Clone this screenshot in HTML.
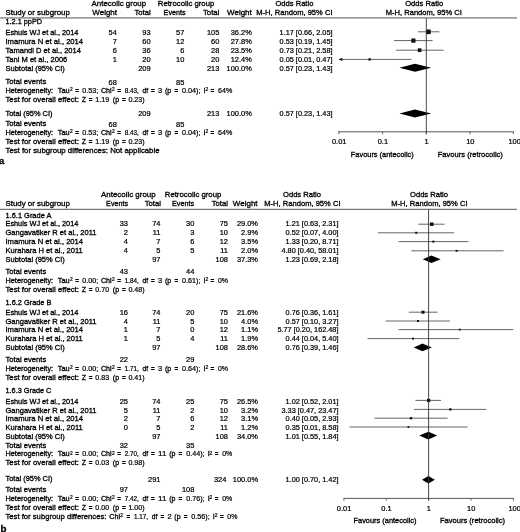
<!DOCTYPE html>
<html><head><meta charset="utf-8"><title>Forest plot</title>
<style>
html,body{margin:0;padding:0;background:#fff;}
svg{display:block;}
text{font-family:"Liberation Sans",sans-serif;font-size:8px;fill:#000;stroke:#000;stroke-width:0.32;}
.n{stroke-width:0.24;}
</style></head><body>
<svg width="520" height="532" viewBox="0 0 520 532">
<rect width="520" height="532" fill="#fff"/>
<text x="91.60" y="5.80" textLength="54.50" lengthAdjust="spacingAndGlyphs">Antecolic group</text>
<text x="157.80" y="5.80" textLength="56.50" lengthAdjust="spacingAndGlyphs">Retrocolic group</text>
<text x="294.40" y="5.80" text-anchor="middle" textLength="38.00" lengthAdjust="spacingAndGlyphs">Odds Ratio</text>
<text x="424.20" y="5.80" text-anchor="middle" textLength="38.00" lengthAdjust="spacingAndGlyphs">Odds Ratio</text>
<text x="5.50" y="15.00" textLength="64.30" lengthAdjust="spacingAndGlyphs">Study or subgroup</text>
<text x="92.30" y="15.00" textLength="24.75" lengthAdjust="spacingAndGlyphs">Weight</text>
<text x="150.70" y="15.00" text-anchor="end" textLength="16.30" lengthAdjust="spacingAndGlyphs">Total</text>
<text x="163.60" y="15.00" textLength="22.00" lengthAdjust="spacingAndGlyphs">Events</text>
<text x="219.30" y="15.00" text-anchor="end" textLength="16.30" lengthAdjust="spacingAndGlyphs">Total</text>
<text x="251.80" y="15.00" text-anchor="end" textLength="24.75" lengthAdjust="spacingAndGlyphs">Weight</text>
<text x="294.40" y="15.00" text-anchor="middle" textLength="76.25" lengthAdjust="spacingAndGlyphs">M-H, Random, 95% CI</text>
<text x="423.80" y="15.00" text-anchor="middle" textLength="76.25" lengthAdjust="spacingAndGlyphs">M-H, Random, 95% CI</text>
<line x1="0.00" y1="17.95" x2="517.00" y2="17.95" stroke="#555" stroke-width="1.0"/>
<text x="5.50" y="24.40" textLength="36.60" lengthAdjust="spacingAndGlyphs">1.2.1 ppPD</text>
<text x="5.50" y="34.80" textLength="72.80" lengthAdjust="spacingAndGlyphs">Eshuis WJ et al., 2014</text>
<text x="116.80" y="34.80" text-anchor="end" textLength="8.28" lengthAdjust="spacingAndGlyphs" class="n">54</text>
<text x="150.60" y="34.80" text-anchor="end" textLength="8.28" lengthAdjust="spacingAndGlyphs" class="n">93</text>
<text x="184.30" y="34.80" text-anchor="end" textLength="8.28" lengthAdjust="spacingAndGlyphs" class="n">57</text>
<text x="219.40" y="34.80" text-anchor="end" textLength="12.41" lengthAdjust="spacingAndGlyphs" class="n">105</text>
<text x="251.80" y="34.80" text-anchor="end" textLength="21.10" lengthAdjust="spacingAndGlyphs" class="n">36.2%</text>
<text x="332.50" y="34.80" text-anchor="end" textLength="52.91" lengthAdjust="spacingAndGlyphs" class="n">1.17 [0.66, 2.05]</text>
<line x1="418.00" y1="31.80" x2="439.40" y2="31.80" stroke="#555" stroke-width="0.9"/>
<rect x="426.10" y="29.50" width="4.6" height="4.6" fill="#111"/>
<text x="5.50" y="43.75" textLength="77.60" lengthAdjust="spacingAndGlyphs">Imamura N et al., 2014</text>
<text x="116.80" y="43.75" text-anchor="end" textLength="4.14" lengthAdjust="spacingAndGlyphs" class="n">7</text>
<text x="150.60" y="43.75" text-anchor="end" textLength="8.28" lengthAdjust="spacingAndGlyphs" class="n">60</text>
<text x="184.30" y="43.75" text-anchor="end" textLength="8.28" lengthAdjust="spacingAndGlyphs" class="n">12</text>
<text x="219.40" y="43.75" text-anchor="end" textLength="8.28" lengthAdjust="spacingAndGlyphs" class="n">60</text>
<text x="251.80" y="43.75" text-anchor="end" textLength="21.10" lengthAdjust="spacingAndGlyphs" class="n">27.8%</text>
<text x="332.50" y="43.75" text-anchor="end" textLength="52.91" lengthAdjust="spacingAndGlyphs" class="n">0.53 [0.19, 1.45]</text>
<line x1="394.00" y1="40.60" x2="432.60" y2="40.60" stroke="#555" stroke-width="0.9"/>
<rect x="411.30" y="38.50" width="4.2" height="4.2" fill="#111"/>
<text x="5.50" y="52.70" textLength="75.40" lengthAdjust="spacingAndGlyphs">Tamandl D et al., 2014</text>
<text x="116.80" y="52.70" text-anchor="end" textLength="4.14" lengthAdjust="spacingAndGlyphs" class="n">6</text>
<text x="150.60" y="52.70" text-anchor="end" textLength="8.28" lengthAdjust="spacingAndGlyphs" class="n">36</text>
<text x="184.30" y="52.70" text-anchor="end" textLength="4.14" lengthAdjust="spacingAndGlyphs" class="n">6</text>
<text x="219.40" y="52.70" text-anchor="end" textLength="8.28" lengthAdjust="spacingAndGlyphs" class="n">28</text>
<text x="251.80" y="52.70" text-anchor="end" textLength="21.10" lengthAdjust="spacingAndGlyphs" class="n">23.5%</text>
<text x="332.50" y="52.70" text-anchor="end" textLength="52.91" lengthAdjust="spacingAndGlyphs" class="n">0.73 [0.21, 2.58]</text>
<line x1="396.00" y1="50.20" x2="443.60" y2="50.20" stroke="#555" stroke-width="0.9"/>
<rect x="417.75" y="48.35" width="3.7" height="3.7" fill="#111"/>
<text x="5.50" y="61.65" textLength="61.80" lengthAdjust="spacingAndGlyphs">Tani M et al., 2006</text>
<text x="116.80" y="61.65" text-anchor="end" textLength="4.14" lengthAdjust="spacingAndGlyphs" class="n">1</text>
<text x="150.60" y="61.65" text-anchor="end" textLength="8.28" lengthAdjust="spacingAndGlyphs" class="n">20</text>
<text x="184.30" y="61.65" text-anchor="end" textLength="8.28" lengthAdjust="spacingAndGlyphs" class="n">10</text>
<text x="219.40" y="61.65" text-anchor="end" textLength="8.28" lengthAdjust="spacingAndGlyphs" class="n">20</text>
<text x="251.80" y="61.65" text-anchor="end" textLength="21.10" lengthAdjust="spacingAndGlyphs" class="n">12.4%</text>
<text x="332.50" y="61.65" text-anchor="end" textLength="52.91" lengthAdjust="spacingAndGlyphs" class="n">0.05 [0.01, 0.47]</text>
<line x1="339.00" y1="59.40" x2="411.40" y2="59.40" stroke="#555" stroke-width="0.9"/>
<rect x="368.45" y="58.25" width="2.3" height="2.3" fill="#111"/>
<polygon points="338.6,59.4 342.4,57.7 342.4,61.1" fill="#111"/>
<text x="5.50" y="70.60" textLength="59.30" lengthAdjust="spacingAndGlyphs">Subtotal (95% CI)</text>
<text x="150.60" y="70.60" text-anchor="end" textLength="12.41" lengthAdjust="spacingAndGlyphs" class="n">209</text>
<text x="219.40" y="70.60" text-anchor="end" textLength="12.41" lengthAdjust="spacingAndGlyphs" class="n">213</text>
<text x="251.80" y="70.60" text-anchor="end" textLength="25.23" lengthAdjust="spacingAndGlyphs" class="n">100.0%</text>
<text x="332.50" y="70.60" text-anchor="end" textLength="52.91" lengthAdjust="spacingAndGlyphs" class="n">0.57 [0.23, 1.43]</text>
<polygon points="399.40,67.8 415.00,63.8 431.20,67.8 415.00,71.8" fill="#000"/>
<text x="5.50" y="84.20" textLength="40.80" lengthAdjust="spacingAndGlyphs">Total events</text>
<text x="116.80" y="84.60" text-anchor="end" textLength="8.28" lengthAdjust="spacingAndGlyphs" class="n">68</text>
<text x="184.30" y="84.60" text-anchor="end" textLength="8.28" lengthAdjust="spacingAndGlyphs" class="n">85</text>
<text x="5.50" y="93.10" textLength="47.60" lengthAdjust="spacingAndGlyphs">Heterogeneity:</text>
<text x="57.70" y="93.10" textLength="11.90" lengthAdjust="spacingAndGlyphs">Tau</text>
<text x="70.00" y="91.20" textLength="2.70" lengthAdjust="spacingAndGlyphs" style="font-size:4.7px" class="n">2</text>
<text x="75.30" y="93.10" textLength="3.70" lengthAdjust="spacingAndGlyphs">=</text>
<text x="82.20" y="93.10" textLength="16.00" lengthAdjust="spacingAndGlyphs" class="n">0.53;</text>
<text x="100.90" y="93.10" textLength="10.80" lengthAdjust="spacingAndGlyphs">Chi</text>
<text x="111.90" y="91.20" textLength="2.70" lengthAdjust="spacingAndGlyphs" style="font-size:4.7px" class="n">2</text>
<text x="117.30" y="93.10" textLength="3.70" lengthAdjust="spacingAndGlyphs">=</text>
<text x="124.70" y="93.10" textLength="14.00" lengthAdjust="spacingAndGlyphs" class="n">8.43,</text>
<text x="142.50" y="93.10" textLength="5.50" lengthAdjust="spacingAndGlyphs">df</text>
<text x="151.10" y="93.10" textLength="3.70" lengthAdjust="spacingAndGlyphs">=</text>
<text x="158.10" y="93.10" textLength="4.15" lengthAdjust="spacingAndGlyphs" class="n">3</text>
<text x="165.00" y="93.10" textLength="6.30" lengthAdjust="spacingAndGlyphs">(p</text>
<text x="174.40" y="93.10" textLength="3.70" lengthAdjust="spacingAndGlyphs">=</text>
<text x="182.00" y="93.10" textLength="18.50" lengthAdjust="spacingAndGlyphs" class="n">0.04);</text>
<text x="203.50" y="93.10" textLength="2.00" lengthAdjust="spacingAndGlyphs">I</text>
<text x="205.40" y="91.20" textLength="2.70" lengthAdjust="spacingAndGlyphs" style="font-size:4.7px" class="n">2</text>
<text x="210.60" y="93.10" textLength="3.70" lengthAdjust="spacingAndGlyphs">=</text>
<text x="218.00" y="93.10" textLength="14.20" lengthAdjust="spacingAndGlyphs" class="n">64%</text>
<text x="5.50" y="102.00" textLength="73.40" lengthAdjust="spacingAndGlyphs">Test for overall effect:</text>
<text x="81.70" y="102.00" textLength="4.30" lengthAdjust="spacingAndGlyphs">Z</text>
<text x="88.80" y="102.00" textLength="3.70" lengthAdjust="spacingAndGlyphs">=</text>
<text x="95.30" y="102.00" textLength="13.80" lengthAdjust="spacingAndGlyphs" class="n">1.19</text>
<text x="112.80" y="102.00" textLength="6.30" lengthAdjust="spacingAndGlyphs">(p</text>
<text x="122.00" y="102.00" textLength="3.70" lengthAdjust="spacingAndGlyphs">=</text>
<text x="128.40" y="102.00" textLength="16.20" lengthAdjust="spacingAndGlyphs" class="n">0.23)</text>
<text x="5.50" y="115.60" textLength="47.00" lengthAdjust="spacingAndGlyphs">Total (95% CI)</text>
<text x="150.60" y="116.20" text-anchor="end" textLength="12.41" lengthAdjust="spacingAndGlyphs" class="n">209</text>
<text x="219.40" y="116.20" text-anchor="end" textLength="12.41" lengthAdjust="spacingAndGlyphs" class="n">213</text>
<text x="251.80" y="116.20" text-anchor="end" textLength="25.23" lengthAdjust="spacingAndGlyphs" class="n">100.0%</text>
<text x="332.50" y="116.20" text-anchor="end" textLength="52.91" lengthAdjust="spacingAndGlyphs" class="n">0.57 [0.23, 1.43]</text>
<polygon points="399.40,113.4 415.00,109.4 431.20,113.4 415.00,117.4" fill="#000"/>
<text x="5.50" y="126.30" textLength="40.80" lengthAdjust="spacingAndGlyphs">Total events</text>
<text x="116.80" y="126.70" text-anchor="end" textLength="8.28" lengthAdjust="spacingAndGlyphs" class="n">68</text>
<text x="184.30" y="126.70" text-anchor="end" textLength="8.28" lengthAdjust="spacingAndGlyphs" class="n">85</text>
<text x="5.50" y="135.30" textLength="47.60" lengthAdjust="spacingAndGlyphs">Heterogeneity:</text>
<text x="57.70" y="135.30" textLength="11.90" lengthAdjust="spacingAndGlyphs">Tau</text>
<text x="70.00" y="133.40" textLength="2.70" lengthAdjust="spacingAndGlyphs" style="font-size:4.7px" class="n">2</text>
<text x="75.30" y="135.30" textLength="3.70" lengthAdjust="spacingAndGlyphs">=</text>
<text x="82.20" y="135.30" textLength="16.00" lengthAdjust="spacingAndGlyphs" class="n">0.53;</text>
<text x="100.90" y="135.30" textLength="10.80" lengthAdjust="spacingAndGlyphs">Chi</text>
<text x="111.90" y="133.40" textLength="2.70" lengthAdjust="spacingAndGlyphs" style="font-size:4.7px" class="n">2</text>
<text x="117.30" y="135.30" textLength="3.70" lengthAdjust="spacingAndGlyphs">=</text>
<text x="124.70" y="135.30" textLength="14.00" lengthAdjust="spacingAndGlyphs" class="n">8.43,</text>
<text x="142.50" y="135.30" textLength="5.50" lengthAdjust="spacingAndGlyphs">df</text>
<text x="151.10" y="135.30" textLength="3.70" lengthAdjust="spacingAndGlyphs">=</text>
<text x="158.10" y="135.30" textLength="4.15" lengthAdjust="spacingAndGlyphs" class="n">3</text>
<text x="165.00" y="135.30" textLength="6.30" lengthAdjust="spacingAndGlyphs">(p</text>
<text x="174.40" y="135.30" textLength="3.70" lengthAdjust="spacingAndGlyphs">=</text>
<text x="182.00" y="135.30" textLength="18.50" lengthAdjust="spacingAndGlyphs" class="n">0.04);</text>
<text x="203.50" y="135.30" textLength="2.00" lengthAdjust="spacingAndGlyphs">I</text>
<text x="205.40" y="133.40" textLength="2.70" lengthAdjust="spacingAndGlyphs" style="font-size:4.7px" class="n">2</text>
<text x="210.60" y="135.30" textLength="3.70" lengthAdjust="spacingAndGlyphs">=</text>
<text x="218.00" y="135.30" textLength="14.20" lengthAdjust="spacingAndGlyphs" class="n">64%</text>
<text x="5.50" y="144.30" textLength="73.40" lengthAdjust="spacingAndGlyphs">Test for overall effect:</text>
<text x="81.70" y="144.30" textLength="4.30" lengthAdjust="spacingAndGlyphs">Z</text>
<text x="88.80" y="144.30" textLength="3.70" lengthAdjust="spacingAndGlyphs">=</text>
<text x="95.30" y="144.30" textLength="13.80" lengthAdjust="spacingAndGlyphs" class="n">1.19</text>
<text x="112.80" y="144.30" textLength="6.30" lengthAdjust="spacingAndGlyphs">(p</text>
<text x="122.00" y="144.30" textLength="3.70" lengthAdjust="spacingAndGlyphs">=</text>
<text x="128.40" y="144.30" textLength="16.20" lengthAdjust="spacingAndGlyphs" class="n">0.23)</text>
<text x="5.50" y="153.20" textLength="154.00" lengthAdjust="spacingAndGlyphs">Test for subgroup differences: Not applicable</text>
<text x="-1.00" y="164.30" textLength="5.30" lengthAdjust="spacingAndGlyphs" font-weight="bold" style="font-size:9.6px">a</text>
<line x1="426.30" y1="18.20" x2="426.30" y2="134.20" stroke="#333" stroke-width="0.9"/>
<line x1="338.10" y1="131.80" x2="513.80" y2="131.80" stroke="#444" stroke-width="0.9"/>
<line x1="338.90" y1="131.80" x2="338.90" y2="134.30" stroke="#444" stroke-width="0.8"/>
<text x="339.20" y="143.80" text-anchor="middle" textLength="14.48" lengthAdjust="spacingAndGlyphs" class="n">0.01</text>
<line x1="382.60" y1="131.80" x2="382.60" y2="134.30" stroke="#444" stroke-width="0.8"/>
<text x="382.90" y="143.80" text-anchor="middle" textLength="10.34" lengthAdjust="spacingAndGlyphs" class="n">0.1</text>
<line x1="426.30" y1="131.80" x2="426.30" y2="134.30" stroke="#444" stroke-width="0.8"/>
<text x="426.60" y="143.80" text-anchor="middle" textLength="4.14" lengthAdjust="spacingAndGlyphs" class="n">1</text>
<line x1="470.00" y1="131.80" x2="470.00" y2="134.30" stroke="#444" stroke-width="0.8"/>
<text x="470.30" y="143.80" text-anchor="middle" textLength="8.28" lengthAdjust="spacingAndGlyphs" class="n">10</text>
<line x1="513.40" y1="131.80" x2="513.40" y2="134.30" stroke="#444" stroke-width="0.8"/>
<text x="508.40" y="143.80" textLength="12.41" lengthAdjust="spacingAndGlyphs" class="n">100</text>
<text x="382.30" y="156.60" text-anchor="middle" textLength="63.00" lengthAdjust="spacingAndGlyphs">Favours (antecolic)</text>
<text x="470.30" y="156.60" text-anchor="middle" textLength="65.20" lengthAdjust="spacingAndGlyphs">Favours (retrocolic)</text>
<text x="101.10" y="196.70" textLength="54.50" lengthAdjust="spacingAndGlyphs">Antecolic group</text>
<text x="164.80" y="196.70" textLength="56.50" lengthAdjust="spacingAndGlyphs">Retrocolic group</text>
<text x="302.00" y="196.70" text-anchor="middle" textLength="38.00" lengthAdjust="spacingAndGlyphs">Odds Ratio</text>
<text x="429.00" y="196.70" text-anchor="middle" textLength="38.00" lengthAdjust="spacingAndGlyphs">Odds Ratio</text>
<text x="5.50" y="206.00" textLength="64.30" lengthAdjust="spacingAndGlyphs">Study or subgroup</text>
<text x="106.10" y="206.00" textLength="22.00" lengthAdjust="spacingAndGlyphs">Events</text>
<text x="161.00" y="206.00" text-anchor="end" textLength="16.30" lengthAdjust="spacingAndGlyphs">Total</text>
<text x="172.00" y="206.00" textLength="22.00" lengthAdjust="spacingAndGlyphs">Events</text>
<text x="228.00" y="206.00" text-anchor="end" textLength="16.30" lengthAdjust="spacingAndGlyphs">Total</text>
<text x="257.60" y="206.00" text-anchor="end" textLength="24.75" lengthAdjust="spacingAndGlyphs">Weight</text>
<text x="302.40" y="206.00" text-anchor="middle" textLength="76.25" lengthAdjust="spacingAndGlyphs">M-H, Random, 95% CI</text>
<text x="429.40" y="206.00" text-anchor="middle" textLength="76.25" lengthAdjust="spacingAndGlyphs">M-H, Random, 95% CI</text>
<line x1="0.00" y1="209.30" x2="517.00" y2="209.30" stroke="#555" stroke-width="1.0"/>
<text x="5.50" y="217.70" textLength="45.90" lengthAdjust="spacingAndGlyphs">1.6.1 Grade A</text>
<text x="5.50" y="226.40" textLength="72.80" lengthAdjust="spacingAndGlyphs">Eshuis WJ et al., 2014</text>
<text x="128.00" y="226.40" text-anchor="end" textLength="8.28" lengthAdjust="spacingAndGlyphs" class="n">33</text>
<text x="160.50" y="226.40" text-anchor="end" textLength="8.28" lengthAdjust="spacingAndGlyphs" class="n">74</text>
<text x="194.30" y="226.40" text-anchor="end" textLength="8.28" lengthAdjust="spacingAndGlyphs" class="n">30</text>
<text x="228.00" y="226.40" text-anchor="end" textLength="8.28" lengthAdjust="spacingAndGlyphs" class="n">75</text>
<text x="258.00" y="226.40" text-anchor="end" textLength="21.10" lengthAdjust="spacingAndGlyphs" class="n">29.0%</text>
<text x="338.50" y="226.40" text-anchor="end" textLength="52.91" lengthAdjust="spacingAndGlyphs" class="n">1.21 [0.63, 2.31]</text>
<line x1="418.40" y1="224.20" x2="444.60" y2="224.20" stroke="#555" stroke-width="0.9"/>
<rect x="430.05" y="222.45" width="3.5" height="3.5" fill="#111"/>
<text x="5.50" y="235.20" textLength="91.00" lengthAdjust="spacingAndGlyphs">Gangavatiker R et al., 2011</text>
<text x="128.00" y="235.20" text-anchor="end" textLength="4.14" lengthAdjust="spacingAndGlyphs" class="n">2</text>
<text x="160.50" y="235.20" text-anchor="end" textLength="7.72" lengthAdjust="spacingAndGlyphs" class="n">11</text>
<text x="194.30" y="235.20" text-anchor="end" textLength="4.14" lengthAdjust="spacingAndGlyphs" class="n">3</text>
<text x="228.00" y="235.20" text-anchor="end" textLength="8.28" lengthAdjust="spacingAndGlyphs" class="n">10</text>
<text x="258.00" y="235.20" text-anchor="end" textLength="16.96" lengthAdjust="spacingAndGlyphs" class="n">2.9%</text>
<text x="338.50" y="235.20" text-anchor="end" textLength="52.91" lengthAdjust="spacingAndGlyphs" class="n">0.52 [0.07, 4.00]</text>
<line x1="378.00" y1="232.80" x2="454.00" y2="232.80" stroke="#555" stroke-width="0.9"/>
<rect x="415.20" y="231.80" width="2.0" height="2.0" fill="#111"/>
<text x="5.50" y="244.00" textLength="77.60" lengthAdjust="spacingAndGlyphs">Imamura N et al., 2014</text>
<text x="128.00" y="244.00" text-anchor="end" textLength="4.14" lengthAdjust="spacingAndGlyphs" class="n">4</text>
<text x="160.50" y="244.00" text-anchor="end" textLength="4.14" lengthAdjust="spacingAndGlyphs" class="n">7</text>
<text x="194.30" y="244.00" text-anchor="end" textLength="4.14" lengthAdjust="spacingAndGlyphs" class="n">6</text>
<text x="228.00" y="244.00" text-anchor="end" textLength="8.28" lengthAdjust="spacingAndGlyphs" class="n">12</text>
<text x="258.00" y="244.00" text-anchor="end" textLength="16.96" lengthAdjust="spacingAndGlyphs" class="n">3.5%</text>
<text x="338.50" y="244.00" text-anchor="end" textLength="52.91" lengthAdjust="spacingAndGlyphs" class="n">1.33 [0.20, 8.71]</text>
<line x1="398.60" y1="241.60" x2="468.40" y2="241.60" stroke="#555" stroke-width="0.9"/>
<rect x="432.40" y="240.60" width="2.0" height="2.0" fill="#111"/>
<text x="5.50" y="252.85" textLength="77.30" lengthAdjust="spacingAndGlyphs">Kurahara H et al., 2011</text>
<text x="128.00" y="252.85" text-anchor="end" textLength="4.14" lengthAdjust="spacingAndGlyphs" class="n">4</text>
<text x="160.50" y="252.85" text-anchor="end" textLength="4.14" lengthAdjust="spacingAndGlyphs" class="n">5</text>
<text x="194.30" y="252.85" text-anchor="end" textLength="4.14" lengthAdjust="spacingAndGlyphs" class="n">5</text>
<text x="228.00" y="252.85" text-anchor="end" textLength="7.72" lengthAdjust="spacingAndGlyphs" class="n">11</text>
<text x="258.00" y="252.85" text-anchor="end" textLength="16.96" lengthAdjust="spacingAndGlyphs" class="n">2.0%</text>
<text x="338.50" y="252.85" text-anchor="end" textLength="56.98" lengthAdjust="spacingAndGlyphs" class="n">4.80 [0.40, 58.01]</text>
<line x1="411.40" y1="250.80" x2="503.60" y2="250.80" stroke="#555" stroke-width="0.9"/>
<rect x="455.65" y="249.85" width="1.9" height="1.9" fill="#111"/>
<text x="5.50" y="261.70" textLength="59.30" lengthAdjust="spacingAndGlyphs">Subtotal (95% CI)</text>
<text x="160.50" y="261.70" text-anchor="end" textLength="8.28" lengthAdjust="spacingAndGlyphs" class="n">97</text>
<text x="228.00" y="261.70" text-anchor="end" textLength="12.41" lengthAdjust="spacingAndGlyphs" class="n">108</text>
<text x="258.00" y="261.70" text-anchor="end" textLength="21.10" lengthAdjust="spacingAndGlyphs" class="n">37.3%</text>
<text x="338.50" y="261.70" text-anchor="end" textLength="52.91" lengthAdjust="spacingAndGlyphs" class="n">1.23 [0.69, 2.18]</text>
<polygon points="422.80,259.2 431.40,255.5 440.60,259.2 431.40,262.9" fill="#000"/>
<text x="5.50" y="274.20" textLength="40.80" lengthAdjust="spacingAndGlyphs">Total events</text>
<text x="128.00" y="273.80" text-anchor="end" textLength="8.28" lengthAdjust="spacingAndGlyphs" class="n">43</text>
<text x="194.30" y="273.60" text-anchor="end" textLength="8.28" lengthAdjust="spacingAndGlyphs" class="n">44</text>
<text x="5.50" y="283.00" textLength="47.60" lengthAdjust="spacingAndGlyphs">Heterogeneity:</text>
<text x="57.70" y="283.00" textLength="11.90" lengthAdjust="spacingAndGlyphs">Tau</text>
<text x="70.00" y="281.10" textLength="2.70" lengthAdjust="spacingAndGlyphs" style="font-size:4.7px" class="n">2</text>
<text x="75.30" y="283.00" textLength="3.70" lengthAdjust="spacingAndGlyphs">=</text>
<text x="82.20" y="283.00" textLength="16.00" lengthAdjust="spacingAndGlyphs" class="n">0.00;</text>
<text x="100.90" y="283.00" textLength="10.80" lengthAdjust="spacingAndGlyphs">Chi</text>
<text x="111.90" y="281.10" textLength="2.70" lengthAdjust="spacingAndGlyphs" style="font-size:4.7px" class="n">2</text>
<text x="117.30" y="283.00" textLength="3.70" lengthAdjust="spacingAndGlyphs">=</text>
<text x="124.70" y="283.00" textLength="14.00" lengthAdjust="spacingAndGlyphs" class="n">1.84,</text>
<text x="142.50" y="283.00" textLength="5.50" lengthAdjust="spacingAndGlyphs">df</text>
<text x="151.10" y="283.00" textLength="3.70" lengthAdjust="spacingAndGlyphs">=</text>
<text x="158.10" y="283.00" textLength="4.15" lengthAdjust="spacingAndGlyphs" class="n">3</text>
<text x="165.00" y="283.00" textLength="6.30" lengthAdjust="spacingAndGlyphs">(p</text>
<text x="174.40" y="283.00" textLength="3.70" lengthAdjust="spacingAndGlyphs">=</text>
<text x="182.00" y="283.00" textLength="18.50" lengthAdjust="spacingAndGlyphs" class="n">0.61);</text>
<text x="203.50" y="283.00" textLength="2.00" lengthAdjust="spacingAndGlyphs">I</text>
<text x="205.40" y="281.10" textLength="2.70" lengthAdjust="spacingAndGlyphs" style="font-size:4.7px" class="n">2</text>
<text x="210.60" y="283.00" textLength="3.70" lengthAdjust="spacingAndGlyphs">=</text>
<text x="218.00" y="283.00" textLength="10.05" lengthAdjust="spacingAndGlyphs" class="n">0%</text>
<text x="5.50" y="291.80" textLength="73.40" lengthAdjust="spacingAndGlyphs">Test for overall effect:</text>
<text x="81.70" y="291.80" textLength="4.30" lengthAdjust="spacingAndGlyphs">Z</text>
<text x="88.80" y="291.80" textLength="3.70" lengthAdjust="spacingAndGlyphs">=</text>
<text x="95.30" y="291.80" textLength="13.80" lengthAdjust="spacingAndGlyphs" class="n">0.70</text>
<text x="112.80" y="291.80" textLength="6.30" lengthAdjust="spacingAndGlyphs">(p</text>
<text x="122.00" y="291.80" textLength="3.70" lengthAdjust="spacingAndGlyphs">=</text>
<text x="128.40" y="291.80" textLength="16.20" lengthAdjust="spacingAndGlyphs" class="n">0.48)</text>
<text x="5.50" y="304.60" textLength="45.90" lengthAdjust="spacingAndGlyphs">1.6.2 Grade B</text>
<text x="5.50" y="314.80" textLength="72.80" lengthAdjust="spacingAndGlyphs">Eshuis WJ et al., 2014</text>
<text x="128.00" y="314.80" text-anchor="end" textLength="8.28" lengthAdjust="spacingAndGlyphs" class="n">16</text>
<text x="160.50" y="314.80" text-anchor="end" textLength="8.28" lengthAdjust="spacingAndGlyphs" class="n">74</text>
<text x="194.30" y="314.80" text-anchor="end" textLength="8.28" lengthAdjust="spacingAndGlyphs" class="n">20</text>
<text x="228.00" y="314.80" text-anchor="end" textLength="8.28" lengthAdjust="spacingAndGlyphs" class="n">75</text>
<text x="258.00" y="314.80" text-anchor="end" textLength="21.10" lengthAdjust="spacingAndGlyphs" class="n">21.6%</text>
<text x="338.50" y="314.80" text-anchor="end" textLength="52.91" lengthAdjust="spacingAndGlyphs" class="n">0.76 [0.36, 1.61]</text>
<line x1="408.80" y1="312.20" x2="437.60" y2="312.20" stroke="#555" stroke-width="0.9"/>
<rect x="421.50" y="310.70" width="3.0" height="3.0" fill="#111"/>
<text x="5.50" y="323.60" textLength="91.00" lengthAdjust="spacingAndGlyphs">Gangavatiker R et al., 2011</text>
<text x="128.00" y="323.60" text-anchor="end" textLength="4.14" lengthAdjust="spacingAndGlyphs" class="n">4</text>
<text x="160.50" y="323.60" text-anchor="end" textLength="7.72" lengthAdjust="spacingAndGlyphs" class="n">11</text>
<text x="194.30" y="323.60" text-anchor="end" textLength="4.14" lengthAdjust="spacingAndGlyphs" class="n">5</text>
<text x="228.00" y="323.60" text-anchor="end" textLength="8.28" lengthAdjust="spacingAndGlyphs" class="n">10</text>
<text x="258.00" y="323.60" text-anchor="end" textLength="16.96" lengthAdjust="spacingAndGlyphs" class="n">4.0%</text>
<text x="338.50" y="323.60" text-anchor="end" textLength="52.91" lengthAdjust="spacingAndGlyphs" class="n">0.57 [0.10, 3.27]</text>
<line x1="385.60" y1="321.00" x2="450.00" y2="321.00" stroke="#555" stroke-width="0.9"/>
<rect x="417.00" y="320.00" width="2.0" height="2.0" fill="#111"/>
<text x="5.50" y="332.40" textLength="77.60" lengthAdjust="spacingAndGlyphs">Imamura N et al., 2014</text>
<text x="128.00" y="332.40" text-anchor="end" textLength="4.14" lengthAdjust="spacingAndGlyphs" class="n">1</text>
<text x="160.50" y="332.40" text-anchor="end" textLength="4.14" lengthAdjust="spacingAndGlyphs" class="n">7</text>
<text x="194.30" y="332.40" text-anchor="end" textLength="4.14" lengthAdjust="spacingAndGlyphs" class="n">0</text>
<text x="228.00" y="332.40" text-anchor="end" textLength="8.28" lengthAdjust="spacingAndGlyphs" class="n">12</text>
<text x="258.00" y="332.40" text-anchor="end" textLength="16.96" lengthAdjust="spacingAndGlyphs" class="n">1.1%</text>
<text x="338.50" y="332.40" text-anchor="end" textLength="61.05" lengthAdjust="spacingAndGlyphs" class="n">5.77 [0.20, 162.48]</text>
<line x1="398.60" y1="329.60" x2="513.30" y2="329.60" stroke="#555" stroke-width="0.9"/>
<rect x="458.90" y="328.70" width="1.8" height="1.8" fill="#111"/>
<text x="5.50" y="341.40" textLength="77.30" lengthAdjust="spacingAndGlyphs">Kurahara H et al., 2011</text>
<text x="128.00" y="341.40" text-anchor="end" textLength="4.14" lengthAdjust="spacingAndGlyphs" class="n">1</text>
<text x="160.50" y="341.40" text-anchor="end" textLength="4.14" lengthAdjust="spacingAndGlyphs" class="n">5</text>
<text x="194.30" y="341.40" text-anchor="end" textLength="4.14" lengthAdjust="spacingAndGlyphs" class="n">4</text>
<text x="228.00" y="341.40" text-anchor="end" textLength="7.72" lengthAdjust="spacingAndGlyphs" class="n">11</text>
<text x="258.00" y="341.40" text-anchor="end" textLength="16.96" lengthAdjust="spacingAndGlyphs" class="n">1.9%</text>
<text x="338.50" y="341.40" text-anchor="end" textLength="52.91" lengthAdjust="spacingAndGlyphs" class="n">0.44 [0.04, 5.40]</text>
<line x1="367.50" y1="338.60" x2="459.40" y2="338.60" stroke="#555" stroke-width="0.9"/>
<rect x="412.05" y="337.65" width="1.9" height="1.9" fill="#111"/>
<text x="5.50" y="350.10" textLength="59.30" lengthAdjust="spacingAndGlyphs">Subtotal (95% CI)</text>
<text x="160.50" y="350.10" text-anchor="end" textLength="8.28" lengthAdjust="spacingAndGlyphs" class="n">97</text>
<text x="228.00" y="350.10" text-anchor="end" textLength="12.41" lengthAdjust="spacingAndGlyphs" class="n">108</text>
<text x="258.00" y="350.10" text-anchor="end" textLength="21.10" lengthAdjust="spacingAndGlyphs" class="n">28.6%</text>
<text x="338.50" y="350.10" text-anchor="end" textLength="52.91" lengthAdjust="spacingAndGlyphs" class="n">0.76 [0.39, 1.46]</text>
<polygon points="413.80,347.4 422.40,343.59999999999997 431.80,347.4 422.40,351.2" fill="#000"/>
<text x="5.50" y="362.00" textLength="40.80" lengthAdjust="spacingAndGlyphs">Total events</text>
<text x="128.00" y="361.60" text-anchor="end" textLength="8.28" lengthAdjust="spacingAndGlyphs" class="n">22</text>
<text x="194.30" y="361.60" text-anchor="end" textLength="8.28" lengthAdjust="spacingAndGlyphs" class="n">29</text>
<text x="5.50" y="370.80" textLength="47.60" lengthAdjust="spacingAndGlyphs">Heterogeneity:</text>
<text x="57.70" y="370.80" textLength="11.90" lengthAdjust="spacingAndGlyphs">Tau</text>
<text x="70.00" y="368.90" textLength="2.70" lengthAdjust="spacingAndGlyphs" style="font-size:4.7px" class="n">2</text>
<text x="75.30" y="370.80" textLength="3.70" lengthAdjust="spacingAndGlyphs">=</text>
<text x="82.20" y="370.80" textLength="16.00" lengthAdjust="spacingAndGlyphs" class="n">0.00;</text>
<text x="100.90" y="370.80" textLength="10.80" lengthAdjust="spacingAndGlyphs">Chi</text>
<text x="111.90" y="368.90" textLength="2.70" lengthAdjust="spacingAndGlyphs" style="font-size:4.7px" class="n">2</text>
<text x="117.30" y="370.80" textLength="3.70" lengthAdjust="spacingAndGlyphs">=</text>
<text x="124.70" y="370.80" textLength="14.00" lengthAdjust="spacingAndGlyphs" class="n">1.71,</text>
<text x="142.50" y="370.80" textLength="5.50" lengthAdjust="spacingAndGlyphs">df</text>
<text x="151.10" y="370.80" textLength="3.70" lengthAdjust="spacingAndGlyphs">=</text>
<text x="158.10" y="370.80" textLength="4.15" lengthAdjust="spacingAndGlyphs" class="n">3</text>
<text x="165.00" y="370.80" textLength="6.30" lengthAdjust="spacingAndGlyphs">(p</text>
<text x="174.40" y="370.80" textLength="3.70" lengthAdjust="spacingAndGlyphs">=</text>
<text x="182.00" y="370.80" textLength="18.50" lengthAdjust="spacingAndGlyphs" class="n">0.64);</text>
<text x="203.50" y="370.80" textLength="2.00" lengthAdjust="spacingAndGlyphs">I</text>
<text x="205.40" y="368.90" textLength="2.70" lengthAdjust="spacingAndGlyphs" style="font-size:4.7px" class="n">2</text>
<text x="210.60" y="370.80" textLength="3.70" lengthAdjust="spacingAndGlyphs">=</text>
<text x="218.00" y="370.80" textLength="10.05" lengthAdjust="spacingAndGlyphs" class="n">0%</text>
<text x="5.50" y="379.50" textLength="73.40" lengthAdjust="spacingAndGlyphs">Test for overall effect:</text>
<text x="81.70" y="379.50" textLength="4.30" lengthAdjust="spacingAndGlyphs">Z</text>
<text x="88.80" y="379.50" textLength="3.70" lengthAdjust="spacingAndGlyphs">=</text>
<text x="95.30" y="379.50" textLength="13.80" lengthAdjust="spacingAndGlyphs" class="n">0.83</text>
<text x="112.80" y="379.50" textLength="6.30" lengthAdjust="spacingAndGlyphs">(p</text>
<text x="122.00" y="379.50" textLength="3.70" lengthAdjust="spacingAndGlyphs">=</text>
<text x="128.40" y="379.50" textLength="16.20" lengthAdjust="spacingAndGlyphs" class="n">0.41)</text>
<text x="5.50" y="393.40" textLength="45.90" lengthAdjust="spacingAndGlyphs">1.6.3 Grade C</text>
<text x="5.50" y="403.60" textLength="72.80" lengthAdjust="spacingAndGlyphs">Eshuis WJ et al., 2014</text>
<text x="128.00" y="403.60" text-anchor="end" textLength="8.28" lengthAdjust="spacingAndGlyphs" class="n">25</text>
<text x="160.50" y="403.60" text-anchor="end" textLength="8.28" lengthAdjust="spacingAndGlyphs" class="n">74</text>
<text x="194.30" y="403.60" text-anchor="end" textLength="8.28" lengthAdjust="spacingAndGlyphs" class="n">25</text>
<text x="228.00" y="403.60" text-anchor="end" textLength="8.28" lengthAdjust="spacingAndGlyphs" class="n">75</text>
<text x="258.00" y="403.60" text-anchor="end" textLength="21.10" lengthAdjust="spacingAndGlyphs" class="n">26.5%</text>
<text x="338.50" y="403.60" text-anchor="end" textLength="52.91" lengthAdjust="spacingAndGlyphs" class="n">1.02 [0.52, 2.01]</text>
<line x1="415.40" y1="400.40" x2="441.00" y2="400.40" stroke="#555" stroke-width="0.9"/>
<rect x="426.95" y="398.75" width="3.3" height="3.3" fill="#111"/>
<text x="5.50" y="412.50" textLength="91.00" lengthAdjust="spacingAndGlyphs">Gangavatiker R et al., 2011</text>
<text x="128.00" y="412.50" text-anchor="end" textLength="4.14" lengthAdjust="spacingAndGlyphs" class="n">5</text>
<text x="160.50" y="412.50" text-anchor="end" textLength="7.72" lengthAdjust="spacingAndGlyphs" class="n">11</text>
<text x="194.30" y="412.50" text-anchor="end" textLength="4.14" lengthAdjust="spacingAndGlyphs" class="n">2</text>
<text x="228.00" y="412.50" text-anchor="end" textLength="8.28" lengthAdjust="spacingAndGlyphs" class="n">10</text>
<text x="258.00" y="412.50" text-anchor="end" textLength="16.96" lengthAdjust="spacingAndGlyphs" class="n">3.2%</text>
<text x="338.50" y="412.50" text-anchor="end" textLength="56.98" lengthAdjust="spacingAndGlyphs" class="n">3.33 [0.47, 23.47]</text>
<line x1="414.00" y1="409.40" x2="486.40" y2="409.40" stroke="#555" stroke-width="0.9"/>
<rect x="449.25" y="408.25" width="2.3" height="2.3" fill="#111"/>
<text x="5.50" y="421.40" textLength="77.60" lengthAdjust="spacingAndGlyphs">Imamura N et al., 2014</text>
<text x="128.00" y="421.40" text-anchor="end" textLength="4.14" lengthAdjust="spacingAndGlyphs" class="n">2</text>
<text x="160.50" y="421.40" text-anchor="end" textLength="4.14" lengthAdjust="spacingAndGlyphs" class="n">7</text>
<text x="194.30" y="421.40" text-anchor="end" textLength="4.14" lengthAdjust="spacingAndGlyphs" class="n">6</text>
<text x="228.00" y="421.40" text-anchor="end" textLength="8.28" lengthAdjust="spacingAndGlyphs" class="n">12</text>
<text x="258.00" y="421.40" text-anchor="end" textLength="16.96" lengthAdjust="spacingAndGlyphs" class="n">3.1%</text>
<text x="338.50" y="421.40" text-anchor="end" textLength="52.91" lengthAdjust="spacingAndGlyphs" class="n">0.40 [0.05, 2.93]</text>
<line x1="374.40" y1="418.20" x2="447.60" y2="418.20" stroke="#555" stroke-width="0.9"/>
<rect x="409.85" y="417.05" width="2.3" height="2.3" fill="#111"/>
<text x="5.50" y="430.20" textLength="77.30" lengthAdjust="spacingAndGlyphs">Kurahara H et al., 2011</text>
<text x="128.00" y="430.20" text-anchor="end" textLength="4.14" lengthAdjust="spacingAndGlyphs" class="n">0</text>
<text x="160.50" y="430.20" text-anchor="end" textLength="4.14" lengthAdjust="spacingAndGlyphs" class="n">5</text>
<text x="194.30" y="430.20" text-anchor="end" textLength="4.14" lengthAdjust="spacingAndGlyphs" class="n">2</text>
<text x="228.00" y="430.20" text-anchor="end" textLength="7.72" lengthAdjust="spacingAndGlyphs" class="n">11</text>
<text x="258.00" y="430.20" text-anchor="end" textLength="16.96" lengthAdjust="spacingAndGlyphs" class="n">1.2%</text>
<text x="338.50" y="430.20" text-anchor="end" textLength="52.91" lengthAdjust="spacingAndGlyphs" class="n">0.35 [0.01, 8.58]</text>
<line x1="349.50" y1="427.00" x2="467.60" y2="427.00" stroke="#555" stroke-width="0.9"/>
<rect x="407.50" y="426.10" width="1.8" height="1.8" fill="#111"/>
<text x="5.50" y="439.00" textLength="59.30" lengthAdjust="spacingAndGlyphs">Subtotal (95% CI)</text>
<text x="160.50" y="439.00" text-anchor="end" textLength="8.28" lengthAdjust="spacingAndGlyphs" class="n">97</text>
<text x="228.00" y="439.00" text-anchor="end" textLength="12.41" lengthAdjust="spacingAndGlyphs" class="n">108</text>
<text x="258.00" y="439.00" text-anchor="end" textLength="21.10" lengthAdjust="spacingAndGlyphs" class="n">34.0%</text>
<text x="338.50" y="439.00" text-anchor="end" textLength="52.91" lengthAdjust="spacingAndGlyphs" class="n">1.01 [0.55, 1.84]</text>
<polygon points="419.20,435.6 428.40,431.70000000000005 437.20,435.6 428.40,439.5" fill="#000"/>
<text x="5.50" y="447.60" textLength="40.80" lengthAdjust="spacingAndGlyphs">Total events</text>
<text x="128.00" y="447.70" text-anchor="end" textLength="8.28" lengthAdjust="spacingAndGlyphs" class="n">32</text>
<text x="194.30" y="447.70" text-anchor="end" textLength="8.28" lengthAdjust="spacingAndGlyphs" class="n">35</text>
<text x="5.50" y="456.40" textLength="47.60" lengthAdjust="spacingAndGlyphs">Heterogeneity:</text>
<text x="57.70" y="456.40" textLength="11.90" lengthAdjust="spacingAndGlyphs">Tau</text>
<text x="70.00" y="454.50" textLength="2.70" lengthAdjust="spacingAndGlyphs" style="font-size:4.7px" class="n">2</text>
<text x="75.30" y="456.40" textLength="3.70" lengthAdjust="spacingAndGlyphs">=</text>
<text x="82.20" y="456.40" textLength="16.00" lengthAdjust="spacingAndGlyphs" class="n">0.00;</text>
<text x="100.90" y="456.40" textLength="10.80" lengthAdjust="spacingAndGlyphs">Chi</text>
<text x="111.90" y="454.50" textLength="2.70" lengthAdjust="spacingAndGlyphs" style="font-size:4.7px" class="n">2</text>
<text x="117.30" y="456.40" textLength="3.70" lengthAdjust="spacingAndGlyphs">=</text>
<text x="124.70" y="456.40" textLength="14.00" lengthAdjust="spacingAndGlyphs" class="n">2.70,</text>
<text x="142.50" y="456.40" textLength="5.50" lengthAdjust="spacingAndGlyphs">df</text>
<text x="151.10" y="456.40" textLength="3.70" lengthAdjust="spacingAndGlyphs">=</text>
<text x="158.10" y="456.40" textLength="8.30" lengthAdjust="spacingAndGlyphs" class="n">11</text>
<text x="169.15" y="456.40" textLength="6.30" lengthAdjust="spacingAndGlyphs">(p</text>
<text x="178.55" y="456.40" textLength="3.70" lengthAdjust="spacingAndGlyphs">=</text>
<text x="186.15" y="456.40" textLength="18.50" lengthAdjust="spacingAndGlyphs" class="n">0.44);</text>
<text x="207.65" y="456.40" textLength="2.00" lengthAdjust="spacingAndGlyphs">I</text>
<text x="209.55" y="454.50" textLength="2.70" lengthAdjust="spacingAndGlyphs" style="font-size:4.7px" class="n">2</text>
<text x="214.75" y="456.40" textLength="3.70" lengthAdjust="spacingAndGlyphs">=</text>
<text x="222.15" y="456.40" textLength="10.05" lengthAdjust="spacingAndGlyphs" class="n">0%</text>
<text x="5.50" y="465.20" textLength="73.40" lengthAdjust="spacingAndGlyphs">Test for overall effect:</text>
<text x="81.70" y="465.20" textLength="4.30" lengthAdjust="spacingAndGlyphs">Z</text>
<text x="88.80" y="465.20" textLength="3.70" lengthAdjust="spacingAndGlyphs">=</text>
<text x="95.30" y="465.20" textLength="13.80" lengthAdjust="spacingAndGlyphs" class="n">0.03</text>
<text x="112.80" y="465.20" textLength="6.30" lengthAdjust="spacingAndGlyphs">(p</text>
<text x="122.00" y="465.20" textLength="3.70" lengthAdjust="spacingAndGlyphs">=</text>
<text x="128.40" y="465.20" textLength="16.20" lengthAdjust="spacingAndGlyphs" class="n">0.98)</text>
<text x="5.50" y="481.30" textLength="47.00" lengthAdjust="spacingAndGlyphs">Total (95% CI)</text>
<text x="160.50" y="481.90" text-anchor="end" textLength="12.41" lengthAdjust="spacingAndGlyphs" class="n">291</text>
<text x="226.40" y="481.90" text-anchor="end" textLength="12.41" lengthAdjust="spacingAndGlyphs" class="n">324</text>
<text x="258.00" y="481.90" text-anchor="end" textLength="25.23" lengthAdjust="spacingAndGlyphs" class="n">100.0%</text>
<text x="338.50" y="481.90" text-anchor="end" textLength="52.91" lengthAdjust="spacingAndGlyphs" class="n">1.00 [0.70, 1.42]</text>
<polygon points="422.00,479.8 428.40,476.0 434.80,479.8 428.40,483.6" fill="#000"/>
<text x="5.50" y="492.40" textLength="40.80" lengthAdjust="spacingAndGlyphs">Total events</text>
<text x="128.00" y="492.40" text-anchor="end" textLength="8.28" lengthAdjust="spacingAndGlyphs" class="n">97</text>
<text x="194.30" y="492.40" text-anchor="end" textLength="12.41" lengthAdjust="spacingAndGlyphs" class="n">108</text>
<text x="5.50" y="501.20" textLength="47.60" lengthAdjust="spacingAndGlyphs">Heterogeneity:</text>
<text x="57.70" y="501.20" textLength="11.90" lengthAdjust="spacingAndGlyphs">Tau</text>
<text x="70.00" y="499.30" textLength="2.70" lengthAdjust="spacingAndGlyphs" style="font-size:4.7px" class="n">2</text>
<text x="75.30" y="501.20" textLength="3.70" lengthAdjust="spacingAndGlyphs">=</text>
<text x="82.20" y="501.20" textLength="16.00" lengthAdjust="spacingAndGlyphs" class="n">0.00;</text>
<text x="100.90" y="501.20" textLength="10.80" lengthAdjust="spacingAndGlyphs">Chi</text>
<text x="111.90" y="499.30" textLength="2.70" lengthAdjust="spacingAndGlyphs" style="font-size:4.7px" class="n">2</text>
<text x="117.30" y="501.20" textLength="3.70" lengthAdjust="spacingAndGlyphs">=</text>
<text x="124.70" y="501.20" textLength="14.00" lengthAdjust="spacingAndGlyphs" class="n">7.42,</text>
<text x="142.50" y="501.20" textLength="5.50" lengthAdjust="spacingAndGlyphs">df</text>
<text x="151.10" y="501.20" textLength="3.70" lengthAdjust="spacingAndGlyphs">=</text>
<text x="158.10" y="501.20" textLength="8.30" lengthAdjust="spacingAndGlyphs" class="n">11</text>
<text x="169.15" y="501.20" textLength="6.30" lengthAdjust="spacingAndGlyphs">(p</text>
<text x="178.55" y="501.20" textLength="3.70" lengthAdjust="spacingAndGlyphs">=</text>
<text x="186.15" y="501.20" textLength="18.50" lengthAdjust="spacingAndGlyphs" class="n">0.76);</text>
<text x="207.65" y="501.20" textLength="2.00" lengthAdjust="spacingAndGlyphs">I</text>
<text x="209.55" y="499.30" textLength="2.70" lengthAdjust="spacingAndGlyphs" style="font-size:4.7px" class="n">2</text>
<text x="214.75" y="501.20" textLength="3.70" lengthAdjust="spacingAndGlyphs">=</text>
<text x="222.15" y="501.20" textLength="10.05" lengthAdjust="spacingAndGlyphs" class="n">0%</text>
<text x="5.50" y="510.00" textLength="73.40" lengthAdjust="spacingAndGlyphs">Test for overall effect:</text>
<text x="81.70" y="510.00" textLength="4.30" lengthAdjust="spacingAndGlyphs">Z</text>
<text x="88.80" y="510.00" textLength="3.70" lengthAdjust="spacingAndGlyphs">=</text>
<text x="95.30" y="510.00" textLength="13.80" lengthAdjust="spacingAndGlyphs" class="n">0.00</text>
<text x="112.80" y="510.00" textLength="6.30" lengthAdjust="spacingAndGlyphs">(p</text>
<text x="122.00" y="510.00" textLength="3.70" lengthAdjust="spacingAndGlyphs">=</text>
<text x="128.40" y="510.00" textLength="16.20" lengthAdjust="spacingAndGlyphs" class="n">1.00)</text>
<text x="5.50" y="519.00" textLength="100.90" lengthAdjust="spacingAndGlyphs">Test for subgroup differences:</text>
<text x="109.20" y="519.00" textLength="10.80" lengthAdjust="spacingAndGlyphs">Chi</text>
<text x="120.20" y="517.10" textLength="2.70" lengthAdjust="spacingAndGlyphs" style="font-size:4.7px" class="n">2</text>
<text x="126.60" y="519.00" textLength="3.70" lengthAdjust="spacingAndGlyphs">=</text>
<text x="134.00" y="519.00" textLength="14.00" lengthAdjust="spacingAndGlyphs" class="n">1.17,</text>
<text x="151.80" y="519.00" textLength="5.50" lengthAdjust="spacingAndGlyphs">df</text>
<text x="160.40" y="519.00" textLength="3.70" lengthAdjust="spacingAndGlyphs">=</text>
<text x="167.40" y="519.00" textLength="4.15" lengthAdjust="spacingAndGlyphs" class="n">2</text>
<text x="174.30" y="519.00" textLength="6.30" lengthAdjust="spacingAndGlyphs">(p</text>
<text x="183.70" y="519.00" textLength="3.70" lengthAdjust="spacingAndGlyphs">=</text>
<text x="191.30" y="519.00" textLength="18.50" lengthAdjust="spacingAndGlyphs" class="n">0.56);</text>
<text x="212.80" y="519.00" textLength="2.00" lengthAdjust="spacingAndGlyphs">I</text>
<text x="214.70" y="517.10" textLength="2.70" lengthAdjust="spacingAndGlyphs" style="font-size:4.7px" class="n">2</text>
<text x="219.90" y="519.00" textLength="3.70" lengthAdjust="spacingAndGlyphs">=</text>
<text x="227.30" y="519.00" textLength="10.05" lengthAdjust="spacingAndGlyphs" class="n">0%</text>
<text x="0.40" y="532.20" textLength="6.00" lengthAdjust="spacingAndGlyphs" font-weight="bold" style="font-size:9.2px">b</text>
<line x1="428.60" y1="209.50" x2="428.60" y2="500.60" stroke="#333" stroke-width="0.9"/>
<line x1="343.60" y1="498.40" x2="513.80" y2="498.40" stroke="#444" stroke-width="0.9"/>
<line x1="343.90" y1="498.40" x2="343.90" y2="500.70" stroke="#444" stroke-width="0.8"/>
<text x="344.10" y="510.60" text-anchor="middle" textLength="14.48" lengthAdjust="spacingAndGlyphs" class="n">0.01</text>
<line x1="386.25" y1="498.40" x2="386.25" y2="500.70" stroke="#444" stroke-width="0.8"/>
<text x="386.45" y="510.60" text-anchor="middle" textLength="10.34" lengthAdjust="spacingAndGlyphs" class="n">0.1</text>
<line x1="428.60" y1="498.40" x2="428.60" y2="500.70" stroke="#444" stroke-width="0.8"/>
<text x="428.80" y="510.60" text-anchor="middle" textLength="4.14" lengthAdjust="spacingAndGlyphs" class="n">1</text>
<line x1="470.95" y1="498.40" x2="470.95" y2="500.70" stroke="#444" stroke-width="0.8"/>
<text x="471.15" y="510.60" text-anchor="middle" textLength="8.28" lengthAdjust="spacingAndGlyphs" class="n">10</text>
<line x1="513.40" y1="498.40" x2="513.40" y2="500.70" stroke="#444" stroke-width="0.8"/>
<text x="508.40" y="510.60" textLength="12.41" lengthAdjust="spacingAndGlyphs" class="n">100</text>
<text x="385.00" y="522.60" text-anchor="middle" textLength="63.00" lengthAdjust="spacingAndGlyphs">Favours (antecolic)</text>
<text x="472.50" y="522.60" text-anchor="middle" textLength="65.20" lengthAdjust="spacingAndGlyphs">Favours (retrocolic)</text>
</svg>
</body></html>
